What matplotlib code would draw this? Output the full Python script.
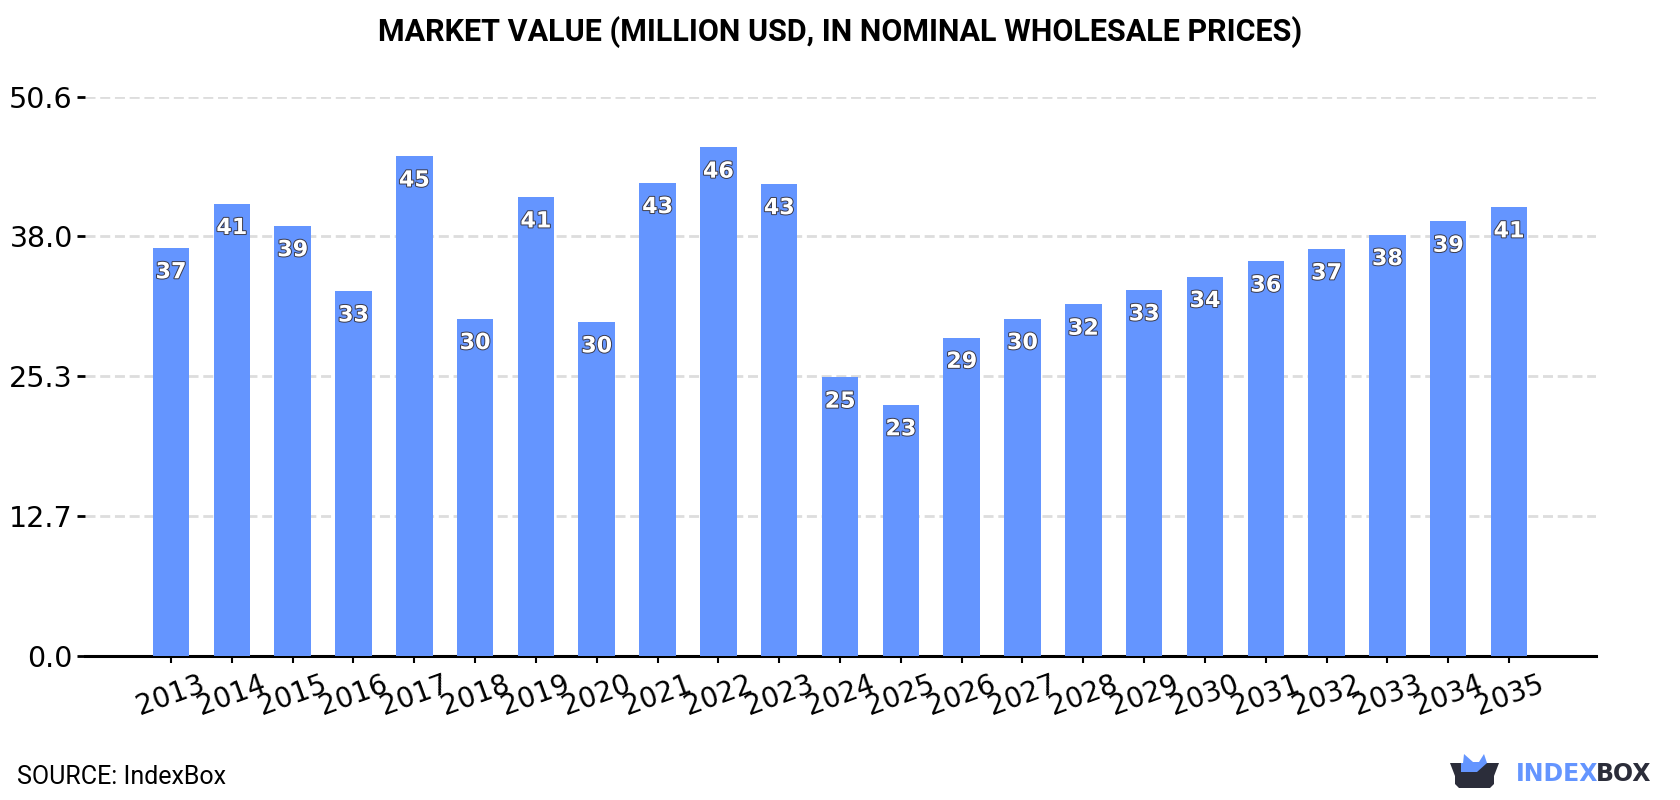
#!/usr/bin/env python3
import matplotlib
matplotlib.use('Agg')
import matplotlib.pyplot as plt
import matplotlib.patheffects as pe
from matplotlib.patches import Polygon

years = [2013, 2014, 2015, 2016, 2017, 2018, 2019, 2020, 2021, 2022, 2023, 2024,
         2025, 2026, 2027, 2028, 2029, 2030, 2031, 2032, 2033, 2034, 2035]
market_value = [36.9, 40.9, 38.9, 33.0, 45.2, 30.5, 41.5, 30.2, 42.8, 46.0, 42.7, 25.2,
                22.7, 28.8, 30.5, 31.8, 33.1, 34.3, 35.7, 36.8, 38.1, 39.3, 40.6]
value_labels = [37, 41, 39, 33, 45, 30, 41, 30, 43, 46, 43, 25,
                23, 29, 30, 32, 33, 34, 36, 37, 38, 39, 41]
y_ticks = [0.0, 12.7, 25.3, 38.0, 50.6]

BLUE = "#6495ff"
DARK = "#2b2d3a"

W, H = 1680, 800
fig = plt.figure(figsize=(W/100, H/100), dpi=100)
ax = fig.add_axes([85/W, 1-656/H, (1596-85)/W, (656-96.5)/H])

x = list(range(len(years)))
ax.bar(x, market_value, width=0.6, color=BLUE, zorder=3)
ax.set_xlim((85-171)/60.82, (1596-171)/60.82)
ax.set_ylim(0, 50.6)

ax.set_yticks(y_ticks)
ax.set_yticklabels(["%.1f" % t for t in y_ticks], fontsize=20.5, color="black")
ax.set_xticks(x)
ax.set_xticklabels(years, fontsize=20, rotation=20, color="black")
ax.tick_params(axis="y", length=5.8, width=2, pad=3)
ax.tick_params(axis="x", length=5, width=1.5, pad=5)
ax.grid(axis="y", color="#dddddd", lw=2, dashes=(3.6, 1.7), zorder=1)
ax.set_axisbelow(True)
for s in ["top", "right", "left"]:
    ax.spines[s].set_visible(False)
ax.spines["bottom"].set_linewidth(2.2)

# value labels inside the top of each bar
for xi, v, lab in zip(x, market_value, value_labels):
    ax.annotate(str(lab), (xi, v), xytext=(0, -17.5), textcoords="offset points",
                ha="center", va="center", fontsize=16, fontweight="bold", color="white",
                zorder=5, path_effects=[pe.withStroke(linewidth=1.4, foreground="#3a3a4a")])

fig.text(0.5, 1-32.5/H, "MARKET VALUE (MILLION USD, IN NOMINAL WHOLESALE PRICES)",
         ha="center", va="center", fontsize=22, fontweight="bold", family="Roboto")
fig.text(17/W, 1-777/H, "SOURCE: IndexBox", ha="left", va="center", fontsize=18, family="Roboto")

# logo: box with two blue ears, then the wordmark
logo = fig.add_axes([0, 0, 1, 1], zorder=10)
logo.set_xlim(0, W)
logo.set_ylim(H, 0)
logo.axis("off")
logo.add_patch(Polygon([(1462, 773), (1464, 754), (1473, 762), (1479, 762), (1484, 754),
                        (1487, 763), (1487, 773)], closed=True, color=BLUE, lw=0))
logo.add_patch(Polygon([(1450, 763), (1499, 763), (1494, 776), (1494, 784), (1490, 788),
                        (1459, 788), (1455, 784), (1455, 776)], closed=True, color=DARK, lw=0))
logo.add_patch(Polygon([(1461, 763), (1487, 763), (1477, 772), (1461, 772)],
                       closed=True, color=BLUE, lw=0))
t1 = logo.text(1516, 774, "INDEX", ha="left", va="center", fontsize=17,
               fontweight="bold", family="DejaVu Sans", color=BLUE)
fig.canvas.draw()
bb = t1.get_window_extent()
logo.text(bb.x1 - 3, 774, "BOX", ha="left", va="center", fontsize=17,
          fontweight="bold", family="DejaVu Sans", color=DARK)

fig.savefig("out.png", dpi=100)
